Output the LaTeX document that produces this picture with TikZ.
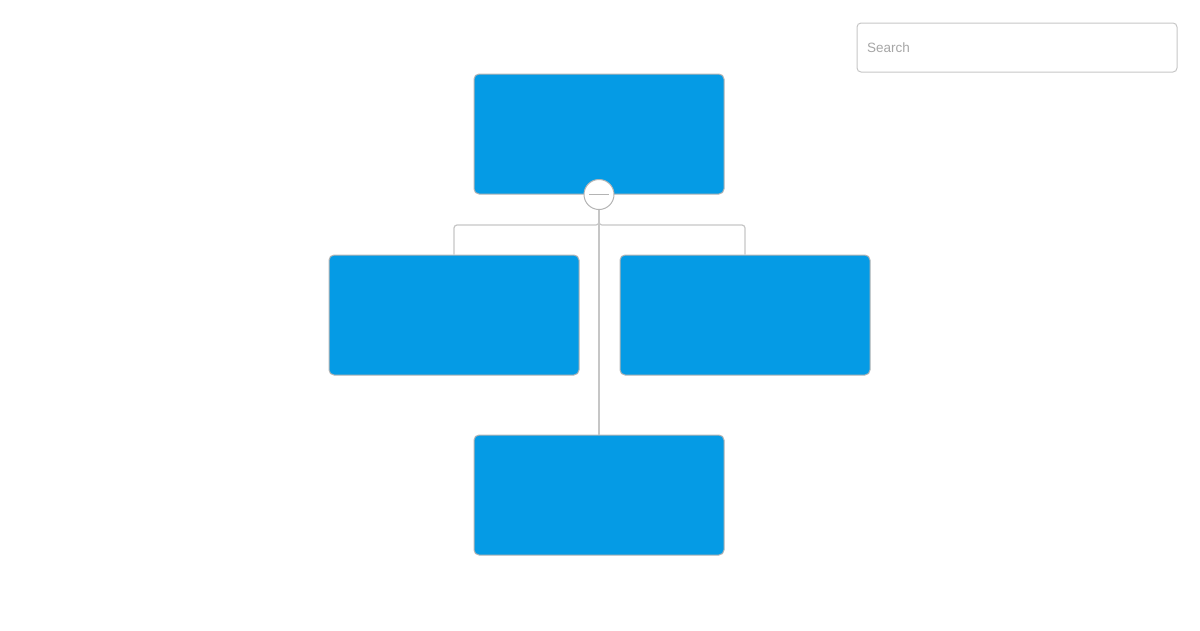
\documentclass[tikz,border=0pt]{standalone}
\usepackage{fontspec}
\setmainfont{Liberation Sans}
\usepackage{xcolor}
\usetikzlibrary{positioning}
\definecolor{cardblue}{HTML}{059BE5}
\definecolor{linegray}{HTML}{C6C6C6}
\definecolor{edgegray}{HTML}{B4B4B4}
\definecolor{hintgray}{HTML}{A6A6A6}

\begin{document}
\begin{tikzpicture}[x=1pt,y=-1pt,
    card/.style={draw=edgegray, fill=cardblue, line width=1pt, rounded corners=5pt,
        minimum width=250pt, minimum height=120pt, inner sep=0pt},
    link/.style={draw=linegray, line width=1.2pt},
    toggle/.style={circle, draw=edgegray, fill=white, line width=1pt,
        minimum size=30pt, inner sep=0pt}]
    \useasboundingbox (0,0) rectangle (1200,630);

    % search field
    \node (search) [draw=linegray, line width=1pt, rounded corners=4pt,
        minimum width=320pt, minimum height=49pt, inner sep=0pt] at (1017,47.5) {};
    \node (hint) [anchor=west, text=hintgray, inner sep=0pt,
        font=\fontsize{13.5}{15}\selectfont] at (867,48) {Search};

    % cards
    \node (root) [card] at (599,134) {};
    \node (left) [card] at (454,315) {};
    \node (right) [card] at (745,315) {};
    \node (bottom) [card] at (599,495) {};

    % connectors
    \coordinate (fork) at (599,225);
    \draw[link, rounded corners=3pt] (root.south) -- (fork) -| (left.north);
    \draw[link, rounded corners=3pt] (root.south) -- (fork) -| (right.north);
    \draw[link] (root.south) -- (bottom.north);

    % collapse button
    \node (collapse) [toggle] at (root.south) {};
    \draw[link, draw=edgegray, line width=1.5pt] ([xshift=-10pt]collapse.center) -- ([xshift=10pt]collapse.center);
\end{tikzpicture}
\end{document}
